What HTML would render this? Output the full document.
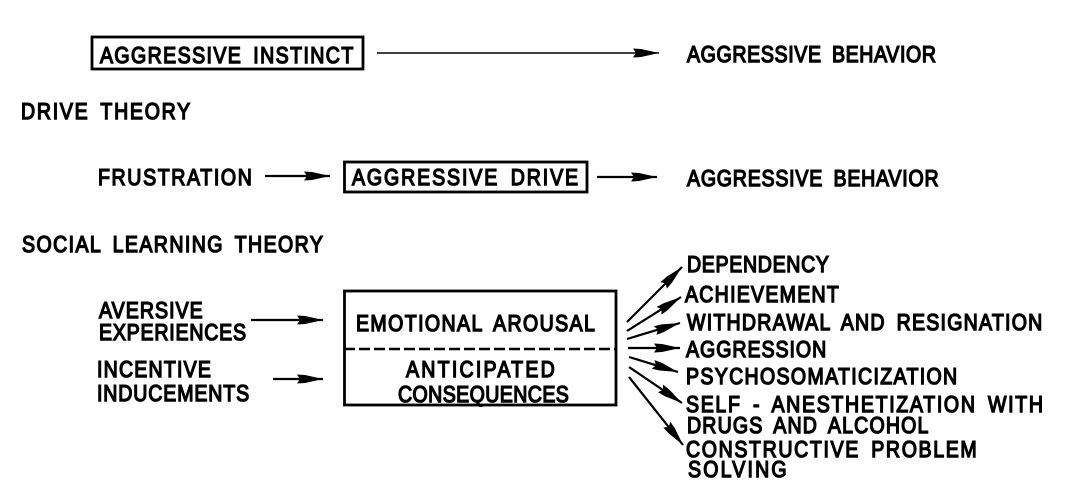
<!DOCTYPE html>
<html><head><meta charset="utf-8"><style>
html,body{margin:0;padding:0;background:#fff;width:1071px;height:494px;overflow:hidden}
svg{display:block}
text{font-family:"Liberation Sans",sans-serif;font-size:23px;fill:#000;stroke:#000;stroke-width:1.4px;word-spacing:5px;text-rendering:geometricPrecision}
line{stroke:#000;stroke-width:2.2}
rect{fill:none;stroke:#000;stroke-width:2.8}
</style></head><body>
<svg width="1071" height="494" viewBox="0 0 1071 494" xmlns="http://www.w3.org/2000/svg">
<defs><marker id="a" markerUnits="userSpaceOnUse" markerWidth="28" markerHeight="12" refX="26" refY="6" orient="auto"><path d="M0 1.500 L8 2 L26 6 L8 10 L0 10.500 L3 6Z" fill="#000"/></marker></defs>
<rect x="92" y="37" width="271" height="32"/>
<rect x="344.500" y="162" width="242.500" height="30"/>
<rect x="344.500" y="291" width="271.500" height="114"/>
<line x1="344" y1="349" x2="616" y2="349" stroke-dasharray="11 4" style="stroke-width:2.6"/>
<line x1="377" y1="53" x2="659" y2="53" marker-end="url(#a)" style="stroke-width:1.6"/>
<line x1="265" y1="176" x2="330" y2="176" marker-end="url(#a)"/>
<line x1="597" y1="177" x2="657" y2="177" marker-end="url(#a)"/>
<line x1="251" y1="320" x2="323" y2="320" marker-end="url(#a)"/>
<line x1="273" y1="379" x2="323" y2="379" marker-end="url(#a)"/>
<line x1="627" y1="322" x2="682" y2="267" marker-end="url(#a)"/>
<line x1="627" y1="331" x2="681" y2="297" marker-end="url(#a)"/>
<line x1="627" y1="339" x2="680" y2="323" marker-end="url(#a)"/>
<line x1="628" y1="348" x2="680" y2="348" marker-end="url(#a)"/>
<line x1="629" y1="357" x2="678" y2="372" marker-end="url(#a)"/>
<line x1="629" y1="367" x2="682" y2="403" marker-end="url(#a)"/>
<line x1="629" y1="377" x2="683" y2="445" marker-end="url(#a)"/>
<text transform="translate(100 63) scale(.85 1)" textLength="298">AGGRESSIVE INSTINCT</text>
<text transform="translate(687 62) scale(.85 1)" textLength="293">AGGRESSIVE BEHAVIOR</text>
<text transform="translate(21 119) scale(.85 1)" textLength="199">DRIVE THEORY</text>
<text transform="translate(98 185) scale(.85 1)" textLength="181">FRUSTRATION</text>
<text transform="translate(352 185) scale(.85 1)" textLength="266">AGGRESSIVE DRIVE</text>
<text transform="translate(687 186) scale(.85 1)" textLength="296">AGGRESSIVE BEHAVIOR</text>
<text transform="translate(22 252) scale(.85 1)" textLength="354">SOCIAL LEARNING THEORY</text>
<text transform="translate(99 318) scale(.85 1)" textLength="122">AVERSIVE</text>
<text transform="translate(99 340) scale(.85 1)" textLength="173">EXPERIENCES</text>
<text transform="translate(97 377) scale(.85 1)" textLength="134">INCENTIVE</text>
<text transform="translate(97 401) scale(.85 1)" textLength="179">INDUCEMENTS</text>
<text transform="translate(356 331) scale(.85 1)" textLength="281">EMOTIONAL AROUSAL</text>
<text transform="translate(406 377) scale(.85 1)" textLength="175">ANTICIPATED</text>
<text transform="translate(398 402) scale(.85 1)" textLength="201">CONSEQUENCES</text>
<text transform="translate(687 272) scale(.85 1)" textLength="167">DEPENDENCY</text>
<text transform="translate(685 302) scale(.85 1)" textLength="181">ACHIEVEMENT</text>
<text transform="translate(687 330) scale(.85 1)" textLength="418">WITHDRAWAL AND RESIGNATION</text>
<text transform="translate(686 357) scale(.85 1)" textLength="165">AGGRESSION</text>
<text transform="translate(686 384) scale(.85 1)" textLength="319">PSYCHOSOMATICIZATION</text>
<text transform="translate(686 412) scale(.85 1)" textLength="420">SELF - ANESTHETIZATION WITH</text>
<text transform="translate(687 433) scale(.85 1)" textLength="284">DRUGS AND ALCOHOL</text>
<text transform="translate(686 457) scale(.85 1)" textLength="342">CONSTRUCTIVE PROBLEM</text>
<text transform="translate(688 477) scale(.85 1)" textLength="116">SOLVING</text>
</svg>
</body></html>
